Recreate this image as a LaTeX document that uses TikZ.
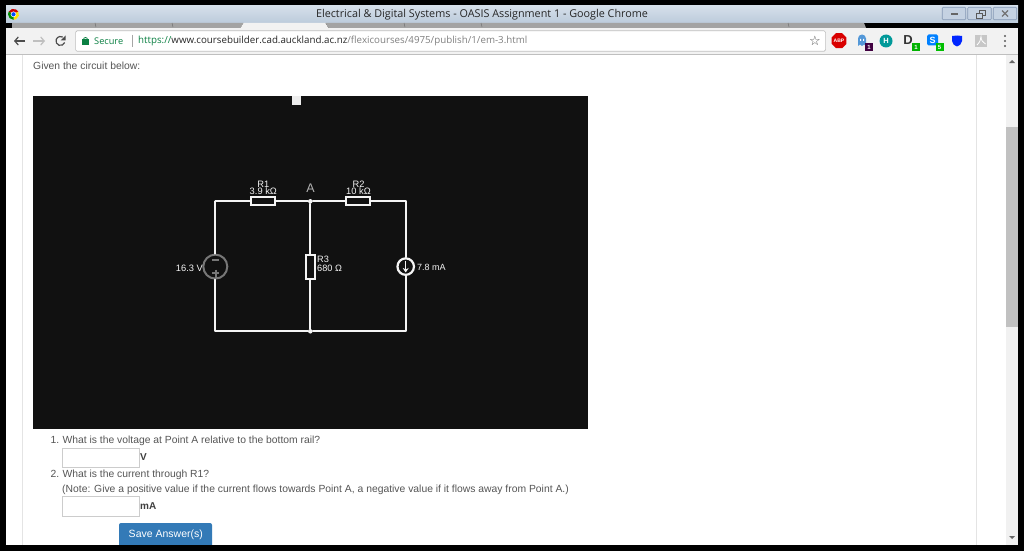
\documentclass[tikz,border=0pt]{standalone}
\usepackage{fontspec}
\setmainfont{Liberation Sans}
\newfontfamily\titlefont{Open Sans}
\usetikzlibrary{arrows.meta,shapes.geometric}
\definecolor{pagetext}{HTML}{555555}
\definecolor{boardbg}{HTML}{111111}
\definecolor{toolbg}{HTML}{F2F2F2}
\definecolor{tabgrey}{HTML}{A3A3A3}
\definecolor{wire}{HTML}{F4F4F4}
\definecolor{srcgrey}{HTML}{777777}
\definecolor{btnblue}{HTML}{337AB7}
\definecolor{scrolltrack}{HTML}{F1F1F1}
\definecolor{scrollthumb}{HTML}{C1C1C1}
\definecolor{edgeline}{HTML}{E4E4E4}
\definecolor{urlgreen}{HTML}{0B8043}
\definecolor{bartop}{HTML}{D5DFEA}
\definecolor{barbot}{HTML}{BCCBDB}
\definecolor{btnfill}{HTML}{C5D2E2}
\definecolor{btnedge}{HTML}{8598B4}
\tikzset{
  txt/.style={inner sep=0pt,anchor=west,text=pagetext,font=\fontsize{10.35}{12}\selectfont},
  clabel/.style={inner sep=0pt,text=wire,font=\fontsize{9}{9}\selectfont},
  resbox/.style={draw=wire,line width=2pt,fill=boardbg,inner sep=0pt,minimum width=#1},
  wireline/.style={draw=wire,line width=2pt},
  dotnode/.style={circle,fill=wire,inner sep=0pt,minimum size=4.5pt},
  inputbox/.style={draw=black!20,fill=white,line width=.7pt,minimum width=77pt,minimum height=19.5pt,inner sep=0pt,anchor=north west},
  unit/.style={inner sep=0pt,anchor=west,text=black!75,font=\bfseries\fontsize{10}{12}\selectfont},
  winbtn/.style={draw=btnedge,fill=btnfill,rounded corners=1pt,line width=.6pt,minimum width=23.5pt,minimum height=12.5pt,inner sep=0pt},
  badge/.style={inner sep=0pt,minimum size=8pt,text=white,font=\bfseries\fontsize{6}{6}\selectfont},
  ext/.style={circle,inner sep=0pt,minimum size=13pt,text=white,font=\bfseries\fontsize{7.5}{7.5}\selectfont}
}
\begin{document}
\begin{tikzpicture}[x=1pt,y=-1pt]
\useasboundingbox (0,0) rectangle (1024,551);
\fill[black] (0,0) rectangle (1024,551);
% title bar
\shade[top color=bartop,bottom color=barbot] (6,6) rectangle (1018,23);
\fill[black] (6,23) rectangle (1018,28);
\fill[tabgrey] (12,23) -- (243.5,23) -- (240.5,28) -- (12,28) -- cycle;
\fill[toolbg] (243.5,23) -- (325.5,23) -- (328.5,28) -- (240.5,28) -- cycle;
\fill[tabgrey] (325.5,23) -- (864,23) -- (866,28) -- (328.5,28) -- cycle;
\draw[black!55,line width=.5pt] (95,23) -- (96,27) (172,23) -- (173,27) (404,23) -- (405,27) (481,23) -- (482,27) (788,23) -- (789,27);
\fill[toolbg] (6,28) rectangle (1018,54);
\fill[white] (6,55) rectangle (1018,545);
\draw[black!25,line width=.5pt] (6,54.5) -- (1018,54.5);
% chrome logo
\coordinate (logoc) at (13.5,14.3);
\fill[red!80!black] (logoc) -- ++(210:5.5) arc (210:330:5.5) -- cycle;
\fill[yellow!85!orange] (logoc) -- ++(-30:5.5) arc (-30:90:5.5) -- cycle;
\fill[green!55!black] (logoc) -- ++(90:5.5) arc (90:210:5.5) -- cycle;
\fill[white] (logoc) circle (2.8);
\fill[blue!70!cyan] (logoc) circle (2.1);
\node[inner sep=0pt,text=black!85,font=\titlefont\fontsize{10.8}{12}\selectfont] (title) at (482,14.5) {Electrical \& Digital Systems - OASIS Assignment 1 - Google Chrome};
% window buttons
\node[winbtn] (bmin) at (954,13.5) {};
\node[winbtn] (bmax) at (979.5,13.5) {};
\node[winbtn] (bclose) at (1005,13.5) {};
\fill[black!60] (951,13.500) rectangle (958,15.500);
\draw[black!65,line width=.7pt] (976,13) rectangle (982,18) (979,13) -- (979,10) -- (985,10) -- (985,15) -- (982,15);
\draw[black!55,line width=1.3pt] (1002,10.5) -- (1008,16.5) (1008,10.5) -- (1002,16.5);
% navigation
\draw[black!70,line width=1.2pt,-{Straight Barb[length=3.5pt,width=8pt]}] (25,41) -- (14,41);
\draw[black!25,line width=1.2pt,-{Straight Barb[length=3.5pt,width=8pt]}] (33,41) -- (45,41);
\draw[black!70,line width=1.2pt] (64.7,42.5) arc (20:300:4.5);
\fill[black!70] (65.5,35.5) -- (65.5,40.5) -- (60.5,40.5) -- cycle;
% omnibox
\node[draw=black!25,fill=white,rounded corners=1.5pt,line width=.6pt,minimum width=750pt,minimum height=20.5pt,inner sep=0pt,anchor=north west] (omni) at (75.3,30.5) {};
\fill[urlgreen] (82,39.5) rectangle (89,45);
\draw[urlgreen,line width=.8pt] (83.5,39.5) arc (180:360:2);
\node[inner sep=0pt,anchor=west,text=urlgreen,font=\titlefont\fontsize{9.2}{11}\selectfont] (secure) at (94,41) {Secure};
\draw[black!35,line width=.5pt] (132.5,35) -- (132.5,47);
\node[inner sep=0pt,anchor=west,font=\titlefont\fontsize{9.75}{11}\selectfont] (url) at (138,41) {\textcolor{urlgreen}{https://}\textcolor{black!85}{www.coursebuilder.cad.auckland.ac.nz}\textcolor{black!50}{/flexicourses/4975/publish/1/em-3.html}};
\node[inner sep=0pt,text=black!70,font=\fontsize{13}{13}\selectfont] (star) at (815,41) {\fontspec{DejaVu Sans}☆};
% extensions
\node[regular polygon,regular polygon sides=8,inner sep=0pt,minimum size=14pt,fill=red!85!black,text=white,font=\bfseries\fontsize{5}{5}\selectfont] (abp) at (839,40.7) {ABP};
\fill[cyan!60!blue!70] (858,46) -- (858,38.5) arc (180:360:4) -- (866,46) -- (864,44.5) -- (862,46) -- (860,44.5) -- cycle;
\fill[white] (860,39) rectangle (861,41) (863,39) rectangle (864,41);
\node[badge,fill=violet!50!black] at (869,47) {1};
\node[ext,fill=teal!80!cyan] (hh) at (886,41) {H};
\node[inner sep=0pt,text=black!80,font=\bfseries\fontsize{13}{13}\selectfont] (dd) at (908,40) {D};
\node[badge,fill=green!70!black] at (916,47) {1};
\node[rectangle,rounded corners=1.5pt,inner sep=0pt,minimum size=11pt,fill=blue!50!cyan,text=white,font=\bfseries\fontsize{9}{9}\selectfont] (ss) at (932.5,40) {S};
\node[badge,fill=green!75!black] at (939.5,47) {5};
\fill[blue!85!cyan] (952,36) -- (957,35.5) -- (962,36) -- (962,41) .. controls (962,44) and (959,46) .. (957,46.5) .. controls (955,46) and (952,44) .. (952,41) -- cycle;
\node[fill=black!22,minimum size=11.5pt,inner sep=0pt] (pdf) at (981,41) {};
\draw[white,line width=.8pt] (977,45) .. controls (980,42) and (981,39) .. (981,36.5) .. controls (981,40) and (983,43) .. (985.5,44);
\fill[black!65] (1005,36) circle (1.1) (1005,41) circle (1.1) (1005,46) circle (1.1);
% page chrome
\draw[edgeline,line width=.6pt] (22.5,55) -- (22.5,545) (976.5,55) -- (976.5,545);
\fill[scrolltrack] (1006,55) rectangle (1018,545);
\fill[scrollthumb] (1006,127) rectangle (1018,327);
\fill[black!60] (1009,63) -- (1015,63) -- (1012,60) -- cycle;
\fill[black!60] (1009,536) -- (1015,536) -- (1012,539) -- cycle;
% text
\node[txt] (given) at (33,66) {Given the circuit below:};
% board
\fill[boardbg] (33,96) rectangle (588,429);
\node[fill=white!93!black,minimum size=9pt,inner sep=0pt] (handle) at (296.500,100) {};
% circuit
\node[dotnode] (nA) at (310.300,201.300) {};
\node[dotnode] (nB) at (310.300,331.300) {};
\coordinate (tl) at (215.300,201.300);
\coordinate (bl) at (215.300,331.300);
\coordinate (tr) at (405.700,201.300);
\coordinate (br) at (405.700,331.300);
\node[draw=srcgrey,line width=2pt,circle,fill=boardbg,minimum size=24pt,inner sep=0pt] (vs) at (215.300,266.600) {};
\node[draw=wire,line width=2.2pt,circle,fill=boardbg,minimum size=16.5pt,inner sep=0pt] (is) at (405.700,266.600) {};
\node[resbox=24pt,minimum height=8pt] (r1) at (263.200,201.300) {};
\node[resbox=24pt,minimum height=8pt] (r2) at (357.700,201.300) {};
\node[resbox=9pt,minimum height=24pt] (r3) at (310.300,266.600) {};
\draw[wireline,line cap=round,line join=round] (tl) -- (r1) (r1) -- (nA) (nA) -- (r2) (r2) -- (tr) -- (is) (is) -- (br) -- (nB) (nB) -- (bl) -- (vs) (vs) -- (tl) (nA) -- (r3) (r3) -- (nB);
\draw[srcgrey,line width=2pt] (212,260) -- (219,260) (212,273) -- (219,273) (215.500,269.500) -- (215.500,277.500);
\draw[wire,line width=1.4pt,-{Stealth[length=4.5pt,width=6pt]}] (405.700,260.500) -- (405.700,272.500);
\node[clabel,align=center,font=\fontsize{9.3}{7}\selectfont] (lr1) at (263.300,187.500) {R1\\3.9 kΩ};
\node[clabel,align=center,font=\fontsize{9.3}{7}\selectfont] (lr2) at (358.500,187.500) {R2\\10 kΩ};
\node[clabel,align=left,anchor=west,font=\fontsize{9.2}{9}\selectfont] (lr3) at (317,263.500) {R3\\680 Ω};
\node[clabel,anchor=east,font=\fontsize{9.3}{9}\selectfont] (lvs) at (203,267.800) {16.3 V};
\node[clabel,anchor=west] (lis) at (416.800,267.800) {7.8 mA};
\node[inner sep=0pt,text=black!30,font=\fontsize{12.5}{12}\selectfont] (lA) at (310.500,188.500) {A};
% questions
\node[txt] (q1) at (50.500,440.500) {1.\hspace{3.2pt}What is the voltage at Point A relative to the bottom rail?};
\node[inputbox] (in1) at (62,447.500) {};
\node[unit] (v) at (140,457.500) {V};
\node[txt] (q2) at (50.500,474.700) {2.\hspace{3.2pt}What is the current through R1?};
\node[txt] (note) at (62,490) {(Note: Give a positive value if the current flows towards Point A, a negative value if it flows away from Point A.)};
\node[inputbox] (in2) at (62,496.300) {};
\node[unit] (ma) at (140,506.500) {mA};
\fill[btnblue,rounded corners=2pt] (119,523) rectangle (212,550);
\fill[black] (119,545) rectangle (213,551);
\node[inner sep=0pt,text=white,font=\fontsize{10.5}{12}\selectfont] (save) at (165.800,535) {Save Answer(s)};
\end{tikzpicture}
\end{document}
